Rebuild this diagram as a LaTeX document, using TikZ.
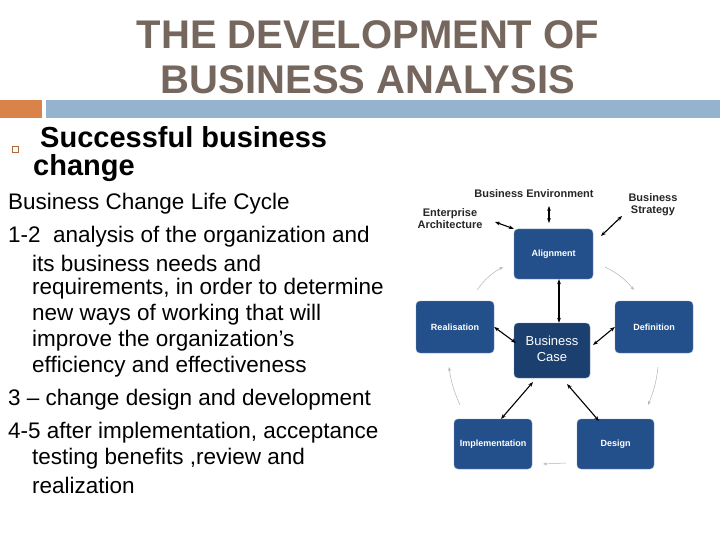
\documentclass[tikz,border=0pt]{standalone}
\usepackage{fontspec}
\setmainfont{Liberation Sans}
\usetikzlibrary{arrows.meta}
\definecolor{boxblue}{HTML}{23508A}
\definecolor{casebl}{HTML}{1B3F6E}
\definecolor{titlec}{HTML}{76675E}
\definecolor{barblue}{HTML}{94B3CF}
\definecolor{barorange}{HTML}{D9824A}
\begin{document}
\begin{tikzpicture}[x=1pt,y=-1pt,
  box/.style={draw=boxblue!60!white,fill=boxblue,rounded corners=4pt,text=white,font=\fontsize{9}{10}\selectfont\bfseries,inner sep=0pt},
  dbl/.style={{Stealth[length=5pt]}-{Stealth[length=5pt]},line width=1.1pt,black},
  cyc/.style={-{Stealth[length=4pt,open]},gray!60,line width=0.5pt},
  lbl/.style={font=\fontsize{11}{12}\selectfont\bfseries,align=center,text=black!85},
  body/.style={anchor=west,font=\fontsize{22.5}{24}\selectfont,inner sep=0pt}]
\useasboundingbox (0,0) rectangle (720,540);
% title
\node (t1) at (368,35) {\fontsize{40}{44}\selectfont\bfseries\color{titlec}THE DEVELOPMENT OF};
\node (t2) at (368,80) {\fontsize{40}{44}\selectfont\bfseries\color{titlec}BUSINESS ANALYSIS};
\fill[barorange] (0,100) rectangle (42,118);
\fill[barblue] (46,100) rectangle (720,118);
% bullet
\draw[draw=barorange!80!black,fill=white,line width=0.8pt] (12,146) rectangle (18,152);
\node[anchor=west,inner sep=0pt] (h1) at (40,137) {\fontsize{29}{32}\selectfont\bfseries Successful business};
\node[anchor=west,inner sep=0pt] (h2) at (33,168) {\fontsize{29}{32}\selectfont\bfseries change};
\node[body] (b1) at (8,204) {Business Change Life Cycle};
\node[body] (b2) at (8,237) {1-2\ \ analysis of the organization and};
\node[body] (b3) at (32,263) {its business needs and};
\node[body] (b4) at (32,289) {requirements, in order to determine};
\node[body] (b5) at (32,315) {new ways of working that will};
\node[body] (b6) at (32,341) {improve the organization's};
\node[body] (b7) at (32,367) {efficiency and effectiveness};
\node[body] (b8) at (8,400) {3 -- change design and development};
\node[body] (b9) at (8,433) {4-5 after implementation, acceptance};
\node[body] (b10) at (32,459) {testing benefits ,review and};
\node[body] (b11) at (32,485) {realization};
% diagram
\node[box,minimum width=79,minimum height=50] (al) at (553.5,254) {Alignment};
\node[box,minimum width=78,minimum height=52] (re) at (455,327) {Realisation};
\node[box,fill=casebl,minimum width=76,minimum height=55,font=\fontsize{13}{16}\selectfont] (bc) at (552,350.5) {\begin{tabular}{@{}c@{}}Business\\Case\end{tabular}};
\node[box,minimum width=78,minimum height=52] (de) at (654,327) {Definition};
\node[box,minimum width=78,minimum height=50] (im) at (493,444) {Implementation};
\node[box,minimum width=77,minimum height=50] (ds) at (615.5,444) {Design};
\node[lbl] (env) at (534,194) {Business Environment};
\node[lbl] (ea) at (450,219) {Enterprise\\Architecture};
\node[lbl] (bs) at (653,205) {Business\\Strategy};
\draw[dbl] (549,206) coordinate (e1) -- (549,223) coordinate (e2);
\draw[dbl] (495,222) coordinate (ea1) -- (al.north west);
\draw[dbl] (622,216) coordinate (bs1) -- (601,236);
\draw[dbl] (al.south -| 559,0) -- (bc.north -| 559,0);
\draw[dbl] (re.east) -- (516,343);
\draw[dbl] (de.west) -- (593,345);
\draw[dbl] (533,382) -- (501,419);
\draw[dbl] (567,384) -- (599,421);
\draw[cyc] (605,267) to[bend left=12] (634,290);
\draw[cyc] (658,367) to[bend left=8] (648,405);
\draw[cyc] (566,463) -- (543,464);
\draw[cyc] (460,405) to[bend left=8] (449,367);
\draw[cyc] (477,290) to[bend left=12] (503,267);
\end{tikzpicture}
\end{document}
